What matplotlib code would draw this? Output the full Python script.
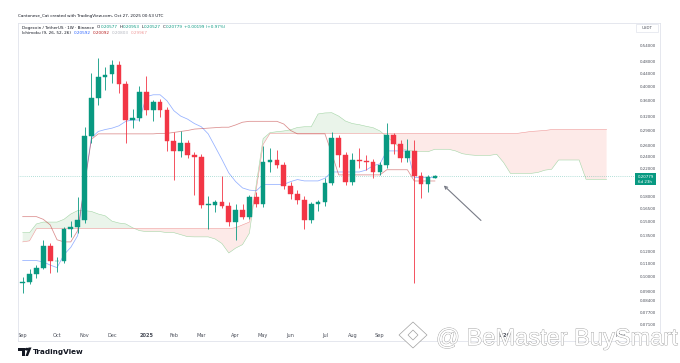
import matplotlib
matplotlib.use("Agg")
import matplotlib.pyplot as plt
import matplotlib.patheffects as pe
from matplotlib.patches import Polygon, Rectangle
from matplotlib.ticker import NullLocator, NullFormatter
import numpy as np

W, H = 680, 363

# weekly DOGE/USDT candles, Sep 2 2024 .. Oct 27 2025
opens = [0.0955, 0.0967, 0.1024, 0.1066, 0.1250, 0.1120, 0.1125, 0.1420, 0.1435, 0.1510,
         0.2780, 0.3680, 0.4270, 0.4380, 0.4670, 0.4060, 0.3130, 0.3170, 0.3850, 0.3370,
         0.3580, 0.3370, 0.2680, 0.2490, 0.2640, 0.2430, 0.2400, 0.1690, 0.1690, 0.1720,
         0.1680, 0.1490, 0.1626, 0.1550, 0.1790, 0.1700, 0.2310, 0.2340, 0.2260, 0.1930,
         0.1830, 0.1750, 0.1510, 0.1700, 0.1720, 0.1980, 0.2750, 0.2420, 0.2000, 0.2340,
         0.2330, 0.2300, 0.2150, 0.2250, 0.2800, 0.2620, 0.2370, 0.2500, 0.2080, 0.1960,
         0.20577]
closes = [0.0967, 0.1024, 0.1066, 0.1250, 0.1120, 0.1125, 0.1420, 0.1435, 0.1510, 0.2780,
          0.3680, 0.4290, 0.4330, 0.4670, 0.4060, 0.3130, 0.3170, 0.3850, 0.3370, 0.3580,
          0.3370, 0.2680, 0.2490, 0.2640, 0.2430, 0.2400, 0.1690, 0.1700, 0.1720, 0.1680,
          0.1490, 0.1626, 0.1550, 0.1790, 0.1700, 0.2310, 0.2340, 0.2260, 0.1930, 0.1830,
          0.1750, 0.1510, 0.1700, 0.1720, 0.1980, 0.2750, 0.2420, 0.2000, 0.2340, 0.2330,
          0.2300, 0.2150, 0.2250, 0.2800, 0.2620, 0.2370, 0.2500, 0.2080, 0.1960, 0.2070,
          0.20779]
highs = [0.1001, 0.1060, 0.1090, 0.1310, 0.1280, 0.1160, 0.1440, 0.1500, 0.1790, 0.2980,
         0.4400, 0.4900, 0.4590, 0.4842, 0.4800, 0.4150, 0.3400, 0.4000, 0.4300, 0.3620,
         0.3650, 0.3450, 0.2870, 0.2880, 0.2700, 0.2480, 0.2450, 0.1800, 0.1750, 0.2080,
         0.1720, 0.1700, 0.1700, 0.1820, 0.1850, 0.2600, 0.2550, 0.2520, 0.2300, 0.2000,
         0.1880, 0.1800, 0.1720, 0.1750, 0.2050, 0.2870, 0.2800, 0.2480, 0.2460, 0.2560,
         0.2420, 0.2360, 0.2300, 0.3063, 0.2850, 0.2700, 0.2720, 0.2700, 0.2150, 0.2100,
         0.20953]
lows = [0.0890, 0.0950, 0.0990, 0.1060, 0.1030, 0.1040, 0.1110, 0.1340, 0.1380, 0.1480,
        0.2650, 0.3500, 0.3900, 0.4100, 0.3800, 0.2640, 0.2950, 0.3100, 0.3250, 0.3100,
        0.3200, 0.2500, 0.2020, 0.2400, 0.2380, 0.1820, 0.1650, 0.1420, 0.1600, 0.1650,
        0.1450, 0.1310, 0.1520, 0.1520, 0.1660, 0.1660, 0.2150, 0.2200, 0.1900, 0.1760,
        0.1700, 0.1420, 0.1480, 0.1620, 0.1680, 0.1950, 0.2220, 0.1950, 0.1950, 0.2200,
        0.2180, 0.2050, 0.2100, 0.2200, 0.2450, 0.2300, 0.2300, 0.0955, 0.1770, 0.1860,
        0.20527]

# Ichimoku (9, 26, 52, 26) lines
conversion = [0.1126, 0.1126, 0.1126, 0.1115, 0.1090, 0.1070, 0.1175, 0.1240, 0.1350, 0.1970,
              0.2750, 0.2880, 0.2920, 0.2950, 0.3000, 0.3100, 0.3130, 0.3130, 0.3710, 0.3760,
              0.3760, 0.3600, 0.3350, 0.3220, 0.3150, 0.3050, 0.2980, 0.2830, 0.2580, 0.2350,
              0.2130, 0.2000, 0.1910, 0.1880, 0.1870, 0.1960, 0.1960, 0.1960, 0.1960, 0.2000,
              0.2030, 0.2010, 0.2010, 0.2010, 0.2050, 0.2145, 0.2145, 0.2145, 0.2145, 0.2145,
              0.2175, 0.2245, 0.2275, 0.2500, 0.2500, 0.2500, 0.2500, 0.2059, 0.2059, 0.2059,
              0.2059]
base = [0.1550, 0.1550, 0.1550, 0.1520, 0.1460, 0.1310, 0.1290, 0.1290, 0.1400, 0.1950,
        0.2720, 0.2830, 0.2830, 0.2830, 0.2830, 0.2830, 0.2830, 0.2830, 0.2830, 0.2830,
        0.2840, 0.2840, 0.2860, 0.2880, 0.2900, 0.2930, 0.2940, 0.2950, 0.2960, 0.2970,
        0.2970, 0.3020, 0.3080, 0.3100, 0.3100, 0.3100, 0.3100, 0.3100, 0.3040, 0.2900,
        0.2830, 0.2830, 0.2830, 0.2830, 0.2830, 0.2450, 0.2100, 0.2100, 0.2100, 0.2100,
        0.2100, 0.2100, 0.2100, 0.2180, 0.2180, 0.2180, 0.2180, 0.2009, 0.2009, 0.2009,
        0.2009]
span_a = [0.1380, 0.1380, 0.1470, 0.1490, 0.1490, 0.1490, 0.1520, 0.1580, 0.1620, 0.1620,
          0.1610, 0.1580, 0.1560, 0.1500, 0.1480, 0.1470, 0.1430, 0.1400, 0.1390, 0.1390,
          0.1390, 0.1380, 0.1380, 0.1360, 0.1340, 0.1338, 0.1338, 0.1338, 0.1318, 0.1275,
          0.1190, 0.1233, 0.1265, 0.1375, 0.1960, 0.2735, 0.2855, 0.2875, 0.2890, 0.2915,
          0.2965, 0.2980, 0.2980, 0.3270, 0.3295, 0.3300, 0.3220, 0.3105, 0.3050, 0.3025,
          0.2990, 0.2960, 0.2890, 0.2770, 0.2660, 0.2550, 0.2510, 0.2495, 0.2490, 0.2485,
          0.2530, 0.2530, 0.2530, 0.2500, 0.2450, 0.2430, 0.2420, 0.2420, 0.2420, 0.2440,
          0.2298, 0.2123, 0.2123, 0.2123, 0.2123, 0.2138, 0.2173, 0.2188, 0.2340, 0.2340,
          0.2340, 0.2340, 0.2034, 0.2034, 0.2034, 0.2034]
span_b = [0.1290, 0.1300, 0.1420, 0.1420, 0.1420, 0.1420, 0.1420, 0.1420, 0.1420, 0.1420,
          0.1420, 0.1420, 0.1420, 0.1420, 0.1420, 0.1420, 0.1420, 0.1420, 0.1420, 0.1420,
          0.1420, 0.1420, 0.1420, 0.1420, 0.1420, 0.1420, 0.1420, 0.1420, 0.1420, 0.1420,
          0.1420, 0.1430, 0.1460, 0.1490, 0.1890, 0.2620, 0.2840, 0.2840, 0.2840, 0.2840,
          0.2840, 0.2840, 0.2840, 0.2840, 0.2840, 0.2840, 0.2840, 0.2840, 0.2840, 0.2840,
          0.2840, 0.2840, 0.2840, 0.2840, 0.2840, 0.2840, 0.2840, 0.2840, 0.2840, 0.2840,
          0.2840, 0.2840, 0.2840, 0.2840, 0.2840, 0.2840, 0.2840, 0.2840, 0.2840, 0.2840,
          0.2840, 0.2840, 0.2840, 0.2860, 0.2880, 0.2890, 0.2900, 0.2920, 0.2920, 0.2920,
          0.2920, 0.2920, 0.2920, 0.2920, 0.2920, 0.2920]

last_price = 0.20779
# month labels that are visible (the rest sit under the watermark)
month_pos = [0, 5, 9, 13, 18, 22, 26, 31, 35, 39, 44, 48, 52, 57, 70, 87]
month_lbl = ["Sep", "Oct", "Nov", "Dec", "2025", "Feb", "Mar", "Apr", "May", "Jun", "Jul",
             "Aug", "Sep", "Oct", "2026", "May"]
price_ticks = [0.54, 0.48, 0.44, 0.40, 0.36, 0.32, 0.29, 0.26, 0.24, 0.22, 0.18, 0.165,
               0.15, 0.135, 0.12, 0.11, 0.10, 0.09, 0.084, 0.077, 0.071]
arrow_tail = (67.0, 0.1487)
arrow_head = (61.0, 0.1971)

UP, DOWN = "#089981", "#F23645"
TXT = "#131722"
FRAME = "#e0e3eb"


def fx(x):
    return x / W


def fy(y):
    return 1 - y / H


def px_poly(pts, **kw):
    return Polygon([(fx(a), fy(b)) for a, b in pts], closed=True,
                   transform=fig.transFigure, **kw)


fig = plt.figure(figsize=(W / 100, H / 100), dpi=100, facecolor="white")
ax = fig.add_axes([fx(18), fy(341), (660 - 18) / W, (341 - 23) / H])
ax.set_yscale("log")
ax.set_xlim(-0.684, 92.77)
ax.set_ylim(0.06275, 0.6337)

# cloud
xc = np.arange(len(span_a))
a = np.array(span_a)
b = np.array(span_b)
ax.fill_between(xc, a, b, where=a >= b, interpolate=True, color="#43a047", alpha=0.11, lw=0, zorder=1)
ax.fill_between(xc, a, b, where=a < b, interpolate=True, color="#f44336", alpha=0.11, lw=0, zorder=1)
ax.plot(xc, a, color="#A5D6A7", lw=0.4, zorder=2)
ax.plot(xc, b, color="#EF9A9A", lw=0.4, zorder=2)

xi = np.arange(len(closes))
ax.plot(xi, conversion, color="#2962FF", lw=0.55, alpha=0.5, zorder=2)
ax.plot(xi, base, color="#B71C1C", lw=0.55, alpha=0.5, zorder=2)

# candles
o = np.array(opens)
c = np.array(closes)
cols = np.where(c >= o, UP, DOWN)
ax.vlines(xi, lows, highs, colors=cols, lw=0.6, zorder=3)
ax.bar(xi, np.abs(c - o), bottom=np.minimum(o, c), width=0.68, color=cols,
       edgecolor=cols, lw=0.3, zorder=4)

ax.axhline(last_price, xmax=(635 - 18) / (660 - 18), color=UP, lw=0.5,
           ls=(0, (1, 2)), alpha=0.6, zorder=2)

ax.annotate("", xy=arrow_head, xytext=arrow_tail,
            arrowprops=dict(arrowstyle="->", color="#787b86", lw=0.8,
                            mutation_scale=5), zorder=5)

# axes styling
for s in ax.spines.values():
    s.set_color(FRAME)
    s.set_linewidth(0.6)
ax.yaxis.tick_right()
ax.set_yticks(price_ticks)
ax.set_yticklabels([f"{p:.5f}" for p in price_ticks])
ax.yaxis.set_minor_locator(NullLocator())
ax.yaxis.set_minor_formatter(NullFormatter())
ax.tick_params(axis="y", length=0, pad=-3, labelsize=2.9, labelcolor="#4a4e59")
for t in ax.get_yticklabels():
    t.set_ha("right")
ax.set_xticks(month_pos)
ax.set_xticklabels(month_lbl)
ax.tick_params(axis="x", length=0, pad=-5.5, labelsize=3.6, labelcolor="#4a4e59")
for t in ax.get_xticklabels():
    if t.get_text() in ("2025", "2026"):
        t.set_fontweight("bold")

# price scale boxes
fig.add_artist(Rectangle((fx(635), fy(185)), 21 / W, 12.3 / H, transform=fig.transFigure,
                         color=UP, lw=0))
fig.text(fx(645.5), fy(176.5), "0.20779", color="white", fontsize=2.9, ha="center", va="center")
fig.text(fx(645.5), fy(182), "6d 23h", color="white", fontsize=2.9, ha="center", va="center")
fig.add_artist(Rectangle((fx(636), fy(32)), 22 / W, 8 / H, transform=fig.transFigure,
                         facecolor="white", edgecolor=FRAME, lw=0.5))
fig.text(fx(647), fy(28), "USDT", color="#4a4e59", fontsize=2.9, ha="center", va="center")

# header
renderer = fig.canvas.get_renderer()


def row(x, y, parts, size=3.0):
    for s, col, gap in parts:
        t = fig.text(fx(x), fy(y), s, color=col, fontsize=size, va="center")
        x += t.get_window_extent(renderer).width + gap


fig.text(fx(18), fy(16.5), "Cantonese_Cat created with TradingView.com, Oct 27, 2025 00:53 UTC",
         color=TXT, fontsize=3.0, va="center")
row(22, 27.5, [("Dogecoin / TetherUS · 1W · Binance", TXT, 3),
               ("O", TXT, 0), ("0.20577", UP, 2), ("H", TXT, 0), ("0.20953", UP, 2),
               ("L", TXT, 0), ("0.20527", UP, 2), ("C", TXT, 0), ("0.20779", UP, 2),
               ("+0.00199 (+0.97%)", UP, 0)])
row(22, 33.5, [("Ichimoku (9, 26, 52, 26)", TXT, 3), ("0.20592", "#2962FF", 2),
               ("0.20092", "#B71C1C", 2), ("0.20803", "#b2b5be", 2),
               ("0.29967", "#EF9A9A", 0)])

# TradingView logo
fig.add_artist(px_poly([(18, 347.5), (25, 347.5), (25, 356), (21.5, 356), (21.5, 350.5), (18, 350.5)],
                       facecolor=TXT, lw=0))
fig.add_artist(px_poly([(28.5, 347.5), (31.5, 347.5), (28, 356), (25.5, 356)], facecolor=TXT, lw=0))
fig.add_artist(plt.Circle((fx(26.8), fy(349.2)), 1.3 / W, transform=fig.transFigure, color=TXT))
fig.text(fx(33), fy(352), "TradingView", color=TXT, fontsize=5.2, fontweight="bold", va="center")

# watermark
fig.add_artist(px_poly([(413, 322), (427, 335), (413, 348), (399, 335)], facecolor="white",
                       edgecolor="#a0a0a0", lw=0.5, zorder=6))
fig.add_artist(px_poly([(413, 330), (418, 335), (413, 340), (408, 335)], facecolor="white",
                       edgecolor="#a0a0a0", lw=0.5, zorder=6))
fig.text(fx(436), fy(345), "@ BeMaster BuySmart", color="white", fontsize=17,
         family="Liberation Sans", va="baseline", zorder=7,
         path_effects=[pe.withStroke(linewidth=0.6, foreground="#a0a0a0")])

fig.savefig("out.png", dpi=100, facecolor="white")
